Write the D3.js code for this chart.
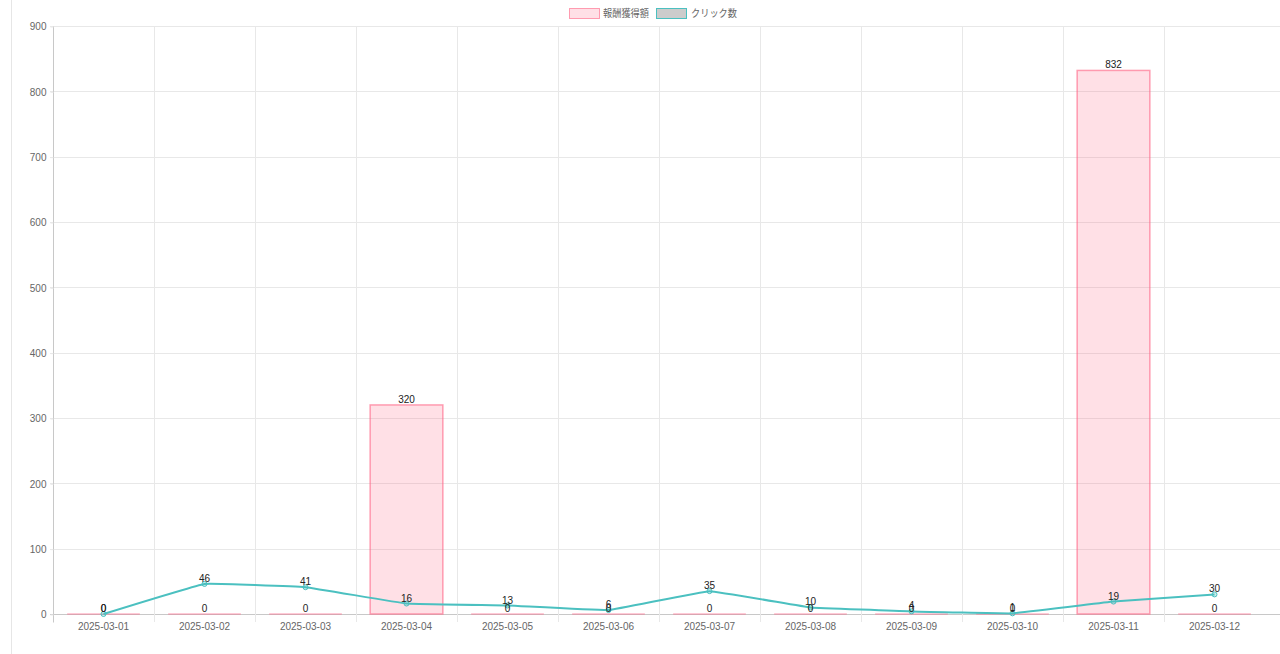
<!DOCTYPE html>
<meta charset="utf-8">
<body style="margin:0;background:#fff">
<script src="https://cdn.jsdelivr.net/npm/d3@7"></script>
<script>

    var width = 1280,
        height = 654;

    // 日付・報酬・クリック
    var dates = ["2025-03-01", "2025-03-02", "2025-03-03", "2025-03-04", "2025-03-05", "2025-03-06",
                 "2025-03-07", "2025-03-08", "2025-03-09", "2025-03-10", "2025-03-11", "2025-03-12"];
    var rewards = [0, 0, 0, 320, 0, 0, 0, 0, 0, 0, 832, 0];
    var clicks = [0, 46, 41, 16, 13, 6, 35, 10, 4, 1, 19, 30];
    var yTicks = [0, 100, 200, 300, 400, 500, 600, 700, 800, 900];
    var legendNames = ["報酬獲得額", "クリック数"];

    var pink = "rgb(255,99,132)",
        pinkFill = "rgba(255,99,132,0.2)",
        teal = "rgb(75,192,192)";
    var font = "'Liberation Sans', 'Noto Sans CJK JP', sans-serif";

    // window.top と衝突しないように
    var plotL = 53, plotR = 1265, plotT = 26, plotB = 614;

    var svg = d3.select("body").append("svg")
            .attr("width", width)
            .attr("height", height)
            .style("font-family", font);

    // 外枠の線
    svg.append("line")
            .attr("x1", 11.5).attr("x2", 11.5)
            .attr("y1", 0).attr("y2", height)
            .attr("stroke", "#e6e6e6");

    var x = d3.scaleBand()
            .domain(dates)
            .range([plotL, plotR]);

    var y = d3.scaleLinear()
            .domain([0, 900])
            .range([plotB, plotT]);

    // 横グリッド
    svg.append("g").selectAll("line")
            .data(yTicks)
            .enter().append("line")
            .attr("x1", plotL - 3).attr("x2", width)
            .attr("y1", function(d) { return Math.round(y(d)) + 0.5; })
            .attr("y2", function(d) { return Math.round(y(d)) + 0.5; })
            .attr("stroke", function(d) { return d === 0 ? "#c8c8c8" : "#e8e8e8"; });

    // 縦グリッド
    svg.append("g").selectAll("line")
            .data(dates.slice(1))
            .enter().append("line")
            .attr("x1", function(d) { return Math.round(x(d)) + 0.5; })
            .attr("x2", function(d) { return Math.round(x(d)) + 0.5; })
            .attr("y1", plotT).attr("y2", plotB + 8)
            .attr("stroke", "#e8e8e8");

    // y軸
    var yAxis = svg.append("g")
            .attr("transform", "translate(" + (plotL + 0.5) + ",0.5)")
            .call(d3.axisLeft(y).tickValues(yTicks).tickSize(3).tickPadding(4));
    yAxis.select(".domain").attr("stroke", "#c8c8c8").attr("d", "M0," + plotT + "V" + (plotB + 8));
    yAxis.selectAll(".tick line").attr("stroke", "#e8e8e8");
    yAxis.selectAll("text").attr("fill", "#666").style("font-size", "10px").style("font-family", font);

    // x軸
    var xAxis = svg.append("g")
            .attr("transform", "translate(0," + (plotB + 0.5) + ")")
            .call(d3.axisBottom(x).tickSize(0).tickPadding(8));
    xAxis.select(".domain").remove();
    xAxis.selectAll("text").attr("fill", "#666").style("font-size", "10px").style("font-family", font);

    // 棒（0の棒は下端に線だけ）
    var bw = x.bandwidth() * 0.72;
    function barX(i) { return x(dates[i]) + (x.bandwidth() - bw) / 2; }

    var barData = rewards.map(function(v, i) { return {i: i, v: v}; });

    svg.append("g").selectAll("rect")
            .data(barData.filter(function(d) { return d.v > 0; }))
            .enter().append("rect")
            .attr("x", function(d) { return barX(d.i); })
            .attr("y", function(d) { return y(d.v); })
            .attr("width", bw)
            .attr("height", function(d) { return plotB - y(d.v); })
            .attr("fill", pinkFill)
            .attr("stroke", pink)
            .attr("stroke-opacity", 0.6)
            .attr("stroke-width", 1.5);

    svg.append("g").selectAll("line")
            .data(barData.filter(function(d) { return d.v === 0; }))
            .enter().append("line")
            .attr("x1", function(d) { return barX(d.i); })
            .attr("x2", function(d) { return barX(d.i) + bw; })
            .attr("y1", plotB).attr("y2", plotB)
            .attr("stroke", pink)
            .attr("stroke-opacity", 0.45)
            .attr("stroke-width", 1.5);

    // 折れ線
    var line = d3.line()
            .x(function(d, i) { return x(dates[i]) + x.bandwidth() / 2; })
            .y(function(d) { return y(d); })
            .curve(d3.curveCardinal.tension(0.8));

    svg.append("path")
            .datum(clicks)
            .attr("d", line)
            .attr("fill", "none")
            .attr("stroke", teal)
            .attr("stroke-width", 2);

    svg.append("g").selectAll("circle")
            .data(clicks)
            .enter().append("circle")
            .attr("cx", function(d, i) { return x(dates[i]) + x.bandwidth() / 2; })
            .attr("cy", function(d) { return y(d); })
            .attr("r", 2.5)
            .attr("fill", "rgba(75,192,192,0.3)")
            .attr("stroke", teal)
            .attr("stroke-width", 1);

    // 値ラベル
    function labels(values) {
        svg.append("g").selectAll("text")
                .data(values)
                .enter().append("text")
                .attr("x", function(d, i) { return x(dates[i]) + x.bandwidth() / 2; })
                .attr("y", function(d) { return y(d) - 2; })
                .attr("text-anchor", "middle")
                .attr("fill", "#222")
                .style("font-size", "10px")
                .text(function(d) { return d; });
    }
    labels(rewards);
    labels(clicks);

    // 凡例
    var legend = svg.append("g");
    legend.append("rect")
            .attr("x", 569.5).attr("y", 8.5).attr("width", 30).attr("height", 10)
            .attr("fill", pinkFill).attr("stroke", pink).attr("stroke-opacity", 0.6);
    legend.append("text")
            .attr("x", 603).attr("y", 17)
            .attr("textLength", 46).attr("lengthAdjust", "spacingAndGlyphs")
            .attr("fill", "#666").style("font-size", "10px")
            .text(legendNames[0]);
    legend.append("rect")
            .attr("x", 656.5).attr("y", 8.5).attr("width", 30).attr("height", 10)
            .attr("fill", "rgba(0,0,0,0.2)").attr("stroke", teal);
    legend.append("text")
            .attr("x", 691).attr("y", 17)
            .attr("textLength", 46).attr("lengthAdjust", "spacingAndGlyphs")
            .attr("fill", "#666").style("font-size", "10px")
            .text(legendNames[1]);

</script>
